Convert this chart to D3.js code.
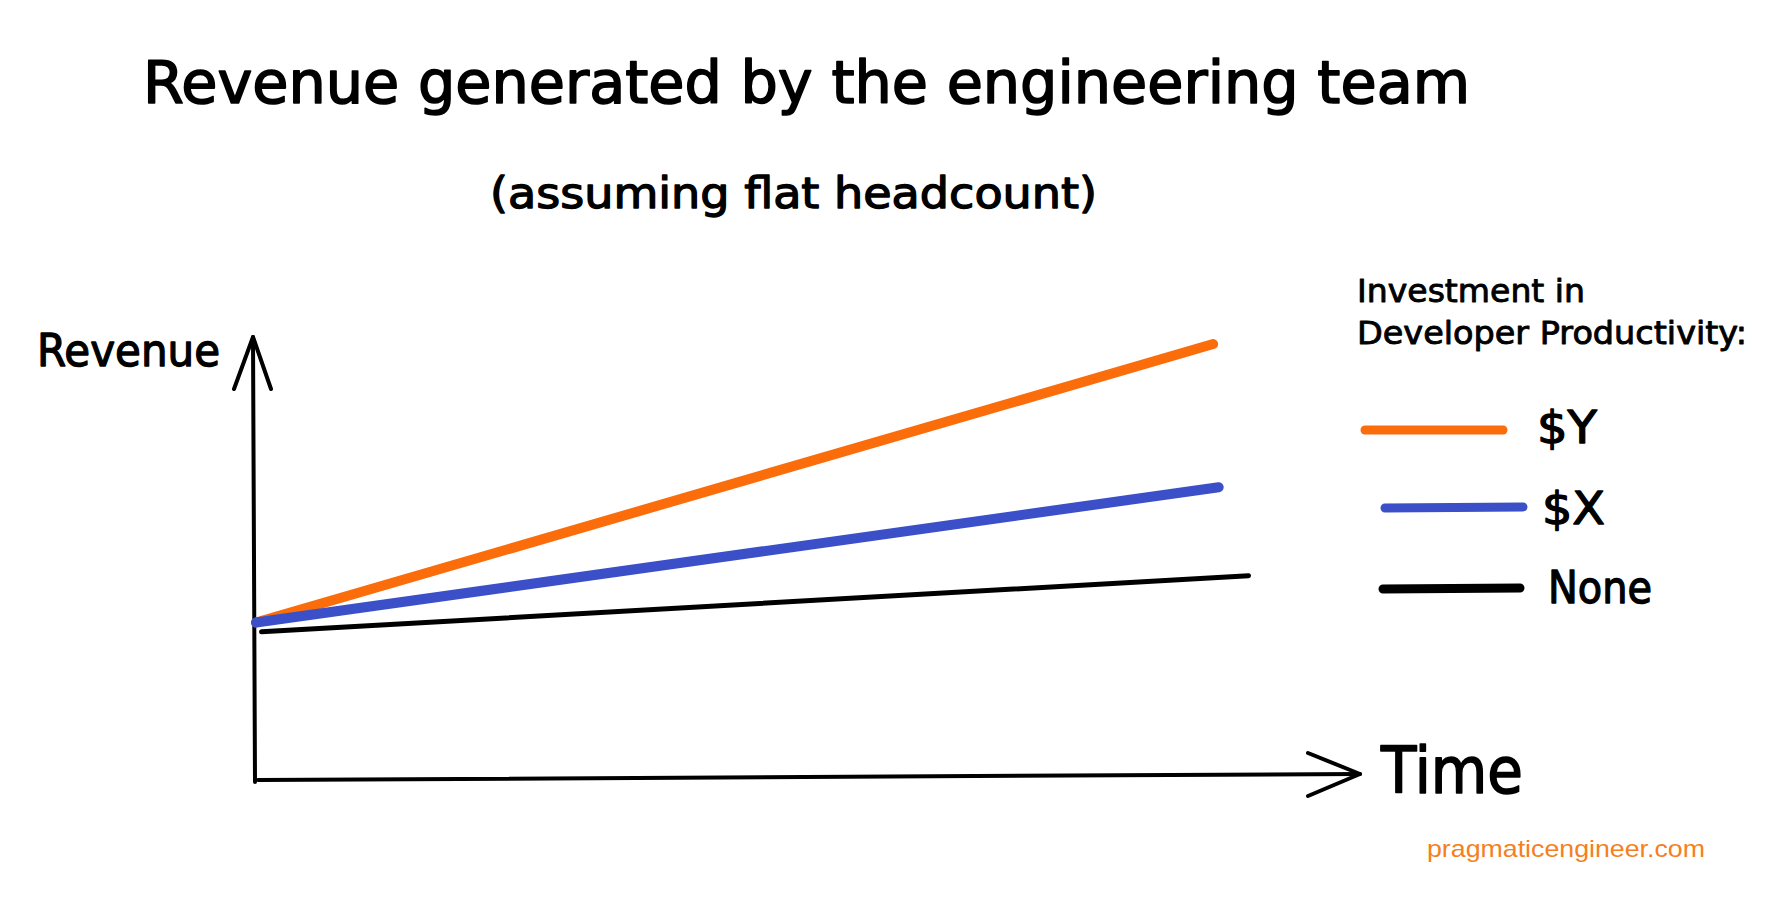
<!DOCTYPE html>
<html>
<head>
<meta charset="utf-8">
<script src="https://cdn.jsdelivr.net/npm/d3@7"></script>
<style>
  html, body { margin: 0; padding: 0; background: #ffffff; }
  svg { display: block; }
</style>
</head>
<body>
<div id="chart"></div>
<script>
// ---- data ----
const seriesNames   = ["$Y", "$X", "None"];
const seriesColors  = ["#fb6c0b", "#3a4fc8", "#000000"];
const timeStart     = [0, 0, 0.5];
const timeEnd       = [86.7, 87.2, 89.9];
const revenueStart  = [35.4, 35.4, 33.3];
const revenueEnd    = [98.4, 66.0, 46.0];
const titleText     = "Revenue generated by the engineering team";
const subtitleText  = "(assuming flat headcount)";
const yAxisLabel    = "Revenue";
const xAxisLabel    = "Time";
const legendTitle   = ["Investment in", "Developer Productivity:"];
const sourceText    = "pragmaticengineer.com";

// ---- drawing ----
const W = 1782, H = 908;
const hand = "'DejaVu Sans', 'Noto Sans', sans-serif";
const svg = d3.select("#chart").append("svg").attr("width", W).attr("height", H);

const x = d3.scaleLinear().domain([0, 100]).range([256, 1360]);
const y = d3.scaleLinear().domain([0, 100]).range([779, 337]);

function txt(t, px, py, size, len, opts = {}) {
  const el = svg.append("text")
    .attr("x", px).attr("y", py)
    .attr("font-family", opts.family || hand)
    .attr("font-size", size)
    .attr("font-weight", opts.weight || "normal")
    .attr("fill", opts.fill || "#000")
    .attr("textLength", len)
    .attr("lengthAdjust", "spacingAndGlyphs")
    .text(t);
  if (opts.stroke !== false) {
    el.attr("stroke", opts.fill || "#000").attr("stroke-width", opts.sw || 1.2).attr("stroke-linejoin", "round");
  }
  return el;
}

// titles
txt(titleText, 143, 103, 58, 1327, { sw: 1.6 });
txt(subtitleText, 490, 208, 42, 607, { sw: 1.3 });

// axes
const line = d3.line();
const axisG = svg.append("g").attr("fill", "none").attr("stroke", "#000")
  .attr("stroke-width", 4).attr("stroke-linecap", "round").attr("stroke-linejoin", "round");
axisG.append("path").attr("d", line([[x(0) - 1, y(0) + 3], [x(0) - 3, y(100)]]));
axisG.append("path").attr("d", line([[x(0) - 22, y(100) + 52], [x(0) - 3, y(100)], [x(0) + 15, y(100) + 52]]));
axisG.append("path").attr("d", line([[x(0) + 2, y(0) + 1], [x(100), y(0) - 5]]));
axisG.append("path").attr("d", line([[x(100) - 52, y(0) - 26], [x(100), y(0) - 5], [x(100) - 52, y(0) + 17]]));

txt(yAxisLabel, 37, 366, 44, 183, { sw: 1.3 });
txt(xAxisLabel, 1381, 793, 64, 142, { sw: 1.6 });

// series lines (black below, then orange, then blue)
const order = [2, 0, 1];
const widths = [10, 10, 5];
order.forEach(i => {
  svg.append("path")
    .attr("d", line([[x(timeStart[i]), y(revenueStart[i])], [x(timeEnd[i]), y(revenueEnd[i])]]))
    .attr("fill", "none")
    .attr("stroke", seriesColors[i])
    .attr("stroke-width", widths[i])
    .attr("stroke-linecap", "round");
});

// legend
txt(legendTitle[0], 1357, 302, 32, 228, { sw: 0.9 });
txt(legendTitle[1], 1357, 344, 32, 390, { sw: 0.9 });
const legendRows = [
  { x1: 1365, x2: 1503, ly: 430, tx: 1537, ty: 443, size: 44, len: 60 },
  { x1: 1385, x2: 1523, ly: 508, tx: 1542, ty: 524, size: 44, len: 63 },
  { x1: 1383, x2: 1520, ly: 589, tx: 1548, ty: 603, size: 44, len: 104 }
];
legendRows.forEach((r, i) => {
  svg.append("line")
    .attr("x1", r.x1).attr("x2", r.x2).attr("y1", r.ly).attr("y2", r.ly - (i === 0 ? 0 : 1))
    .attr("stroke", seriesColors[i]).attr("stroke-width", 9).attr("stroke-linecap", "round");
  txt(seriesNames[i], r.tx, r.ty, r.size, r.len, { sw: 1.3 });
});

// source
txt(sourceText, 1427, 857, 24, 278, { family: "'Liberation Sans', Arial, sans-serif", fill: "#f4801e", stroke: false });
</script>
</body>
</html>
